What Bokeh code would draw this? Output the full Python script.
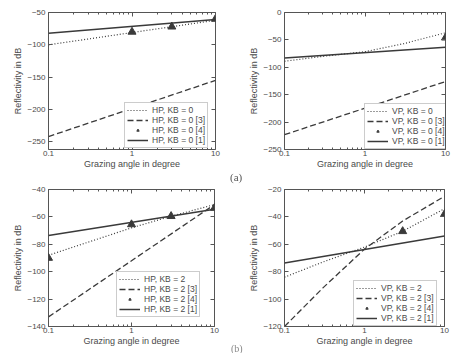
from bokeh.plotting import figure
from bokeh.layouts import column, row
from bokeh.models import (FixedTicker, NumeralTickFormatter, Legend, LegendItem,
                          LinearAxis, LogAxis, Range1d, Div)
from bokeh.embed import file_html
from bokeh.resources import INLINE

# ---------------- data ----------------
x_ticks = [0.1, 1, 10]
x_minor = [0.2, 0.3, 0.4, 0.5, 0.6, 0.7, 0.8, 0.9, 2, 3, 4, 5, 6, 7, 8, 9]

# (a) left: HP, KB = 0
hp0_sim_x = [0.1, 0.3, 1, 3, 10]
hp0_sim = [-100, -91, -81, -72, -62]
hp0_ref3_x = [0.1, 10]
hp0_ref3 = [-242, -155]
hp0_ref4_x = [1, 3, 10]
hp0_ref4 = [-80, -72, -60]
hp0_ref1_x = [0.1, 10]
hp0_ref1 = [-82, -61]

# (a) right: VP, KB = 0
vp0_sim_x = [0.1, 0.3, 1, 3, 10]
vp0_sim = [-89, -80, -71.5, -57, -37]
vp0_ref3_x = [0.1, 10]
vp0_ref3 = [-223, -126]
vp0_ref4_x = [10]
vp0_ref4 = [-46]
vp0_ref1_x = [0.1, 10]
vp0_ref1 = [-83, -63.5]

# (b) left: HP, KB = 2
hp2_sim_x = [0.1, 1, 3, 10]
hp2_sim = [-88, -68, -59.5, -51]
hp2_ref3_x = [0.1, 10]
hp2_ref3 = [-133, -51]
hp2_ref4_x = [0.1, 1, 3, 10]
hp2_ref4 = [-90, -65.5, -59.5, -53.5]
hp2_ref1_x = [0.1, 10]
hp2_ref1 = [-73.5, -54.5]

# (b) right: VP, KB = 2
vp2_sim_x = [0.1, 0.3, 1, 3, 10]
vp2_sim = [-84, -73, -62, -50.5, -34]
vp2_ref3_x = [0.1, 0.3, 1, 3, 10]
vp2_ref3 = [-120, -92, -63.5, -43, -25]
vp2_ref4_x = [3, 10]
vp2_ref4 = [-50.5, -38]
vp2_ref1_x = [0.1, 10]
vp2_ref1 = [-73.7, -54]

y_ticks_a_left = [-250, -200, -150, -100, -50]
y_ticks_a_right = [-250, -200, -150, -100, -50, 0]
y_ticks_b_left = [-140, -120, -100, -80, -60, -40]
y_ticks_b_right = [-120, -100, -80, -60, -40, -20]

panel_tags = ["(a)", "(b)"]

FONT = "Liberation Sans"
TXT = "#4a4a4a"
LINE = "#3a3a3a"


def make_panel(w, h, borders, yr, yticks, series, pol, kb, legend_loc):
    left, right, top, bottom = borders
    p = figure(width=w, height=h, x_axis_type="log", x_range=Range1d(0.1, 10),
               y_range=Range1d(*yr), output_backend="svg", toolbar_location=None,
               min_border_left=left, min_border_right=right, min_border_top=top,
               min_border_bottom=bottom)
    p.grid.visible = False
    p.outline_line_color = "#555555"
    p.outline_line_width = 1
    p.background_fill_color = "white"
    p.border_fill_color = "white"

    xt = FixedTicker(ticks=x_ticks, minor_ticks=x_minor)
    yt = FixedTicker(ticks=yticks)
    p.xaxis.ticker = xt
    p.yaxis.ticker = yt
    p.xaxis.formatter = NumeralTickFormatter(format="0.[0]")
    p.xaxis.axis_label = "Grazing angle in degree"
    p.yaxis.axis_label = "Reflectivity in dB"
    for ax in (p.xaxis[0], p.yaxis[0]):
        ax.axis_line_color = None
        ax.major_tick_in = 4
        ax.major_tick_out = 0
        ax.minor_tick_in = 2
        ax.minor_tick_out = 0
        ax.major_tick_line_color = "#555555"
        ax.minor_tick_line_color = "#555555"
        ax.major_label_text_font = FONT
        ax.major_label_text_font_size = "8px"
        ax.major_label_text_color = TXT
        ax.axis_label_text_font = FONT
        ax.axis_label_text_font_size = "9px"
        ax.axis_label_text_font_style = "normal"
        ax.axis_label_text_color = TXT
        ax.major_label_standoff = 3
        ax.axis_label_standoff = 1
    p.xaxis.major_label_standoff = 1
    p.xaxis.axis_label_standoff = 0

    # box ticks on top and right (labels hidden)
    ra = LinearAxis(ticker=FixedTicker(ticks=yticks), major_label_text_font_size="2px",
                    major_label_text_color=None,
                    axis_line_color=None, major_tick_in=4, major_tick_out=0,
                    minor_tick_in=0, minor_tick_out=0, major_label_standoff=0,
                    major_tick_line_color="#555555")
    ta = LogAxis(ticker=FixedTicker(ticks=x_ticks, minor_ticks=x_minor),
                 major_label_text_font_size="2px", major_label_text_color=None,
                 axis_line_color=None,
                 major_tick_in=4, major_tick_out=0, minor_tick_in=2, minor_tick_out=0,
                 major_label_standoff=0, major_tick_line_color="#555555",
                 minor_tick_line_color="#555555")
    p.add_layout(ra, "right")
    p.add_layout(ta, "above")

    (sx, sy), (dx, dy), (tx, ty), (lx, ly) = series
    r_sim = p.line(sx, sy, line_color=LINE, line_width=1.2, line_dash="1 2")
    r_ref3 = p.line(dx, dy, line_color=LINE, line_width=1.3, line_dash="6 3")
    r_ref4 = p.scatter(tx, ty, marker="triangle", size=8, fill_color="#3a3a3a",
                       line_color="#3a3a3a")
    r_ref1 = p.line(lx, ly, line_color=LINE, line_width=1.5)

    base = f"{pol}, KB = {kb}"
    items = [LegendItem(label=base, renderers=[r_sim]),
             LegendItem(label=base + " [3]", renderers=[r_ref3]),
             LegendItem(label=base + " [4]", renderers=[r_ref4]),
             LegendItem(label=base + " [1]", renderers=[r_ref1])]
    leg = Legend(items=items, location=legend_loc)
    leg.label_text_font = FONT
    leg.label_text_font_size = "8.5px"
    leg.label_text_color = TXT
    leg.label_height = 6
    leg.glyph_height = 6
    leg.glyph_width = 21
    leg.label_standoff = 4
    leg.spacing = 0
    leg.padding = 2
    leg.margin = 0
    leg.border_line_color = "#999999"
    leg.border_line_width = 0.8
    leg.background_fill_alpha = 1
    p.add_layout(leg)
    return p


p1 = make_panel(246, 172, (48, 31, 12, 20), (-262, -50), y_ticks_a_left,
                [(hp0_sim_x, hp0_sim), (hp0_ref3_x, hp0_ref3), (hp0_ref4_x, hp0_ref4),
                 (hp0_ref1_x, hp0_ref1)], "HP", 0, (76, 1))
p2 = make_panel(228, 172, (31, 29, 12, 23), (-250, 0), y_ticks_a_right,
                [(vp0_sim_x, vp0_sim), (vp0_ref3_x, vp0_ref3), (vp0_ref4_x, vp0_ref4),
                 (vp0_ref1_x, vp0_ref1)], "VP", 0, (80, 0))
p3 = make_panel(246, 181, (48, 32, 17, 27), (-140, -40), y_ticks_b_left,
                [(hp2_sim_x, hp2_sim), (hp2_ref3_x, hp2_ref3), (hp2_ref4_x, hp2_ref4),
                 (hp2_ref1_x, hp2_ref1)], "HP", 2, (68, 9))
p4 = make_panel(227, 181, (31, 29, 17, 27), (-120, -20), y_ticks_b_right,
                [(vp2_sim_x, vp2_sim), (vp2_ref3_x, vp2_ref3), (vp2_ref4_x, vp2_ref4),
                 (vp2_ref1_x, vp2_ref1)], "VP", 2, (69, 0))

# sub-figure tags "(a)" (between the rows) and "(b)" (bottom edge)
tags = Div(text=('<div style="position:fixed;left:230px;top:172px;'
                 'font-family:\'Liberation Serif\';font-size:11px;line-height:1;'
                 f'color:#555555">{panel_tags[0]}</div>'
                 '<div style="position:fixed;left:231px;top:344px;'
                 'font-family:\'Liberation Serif\';font-size:10px;line-height:1;'
                 f'color:#888888">{panel_tags[1]}</div>'),
           width=1, height=1, margin=0)

layout = column(row(p1, p2), row(p3, p4, tags))

open("out.html", "w").write(file_html(layout, INLINE))
